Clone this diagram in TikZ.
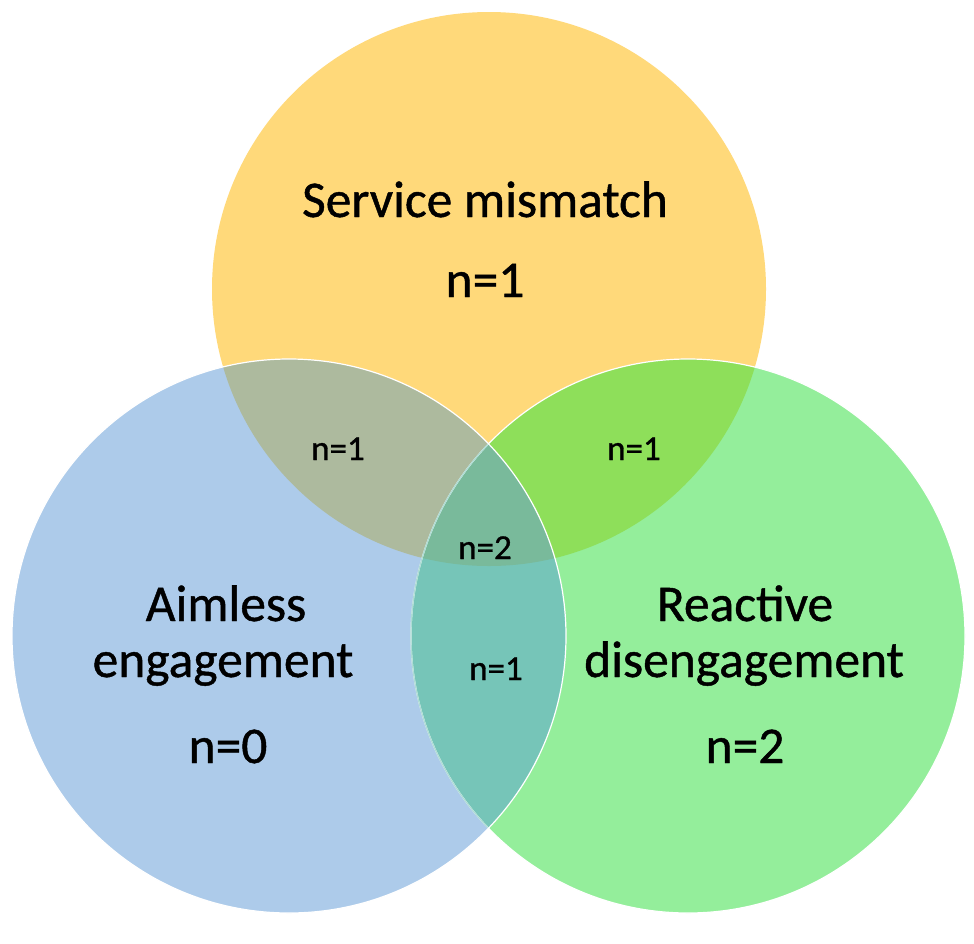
\documentclass[tikz,border=0pt]{standalone}
\usepackage{fontspec}
\setmainfont{Carlito}[BoldFont=Carlito, BoldFeatures={FakeBold=0.9}]
\definecolor{cyel}{HTML}{FFD97A}
\definecolor{cblu}{HTML}{ADCBEA}
\definecolor{cgrn}{HTML}{94EE9B}
\definecolor{cyb}{HTML}{ADBA9E}
\definecolor{cyg}{HTML}{8EDF5A}
\definecolor{cbg}{HTML}{76C5B8}
\definecolor{cybg}{HTML}{79BA9B}
\tikzset{
  bigtxt/.style={font=\fontsize{51.5}{56}\selectfont\bfseries, inner sep=0pt, anchor=base},
  smalltxt/.style={font=\fontsize{35}{40}\selectfont\bfseries, inner sep=0pt, anchor=base},
  rim/.style={white, line width=1.2pt}
}
\begin{document}
\begin{tikzpicture}[x=1pt,y=-1pt]
\useasboundingbox[fill=white] (0,0) rectangle (974,943);
\def\R{277}
\coordinate (Y) at (489,289);
\coordinate (B) at (289,636);
\coordinate (G) at (688,636);
% base circles
\fill[cyel] (Y) circle (\R);
\fill[cgrn] (G) circle (\R);
\fill[cblu] (B) circle (\R);
% pairwise overlaps
\begin{scope}
  \clip (Y) circle (\R);
  \fill[cyb] (B) circle (\R);
  \fill[cyg] (G) circle (\R);
\end{scope}
\begin{scope}
  \clip (B) circle (\R);
  \fill[cbg] (G) circle (\R);
  \clip (G) circle (\R);
  \fill[cybg] (Y) circle (\R);
\end{scope}
% white rims
\draw[rim] (G) circle (\R);
\begin{scope}
  \clip (B) circle (\R);
  \draw[cbg!60!white, line width=1.2pt] (G) circle (\R);
\end{scope}
\draw[rim] (B) circle (\R);
% labels
\node[bigtxt] (tY) at (485,217) {Service mismatch};
\node[bigtxt] (nY) at (485,297) {n=1};
\node[bigtxt] (tB1) at (226,621) {Aimless};
\node[bigtxt] (tB2) at (223,677) {engagement};
\node[bigtxt] (nB) at (228,763) {n=0};
\node[bigtxt] (tG1) at (745,621) {Reactive};
\node[bigtxt] (tG2) at (744,677) {disengagement};
\node[bigtxt] (nG) at (745,763) {n=2};
\node[smalltxt] (nYB) at (338,460) {n=1};
\node[smalltxt] (nYG) at (634,460) {n=1};
\node[smalltxt] (nYBG) at (485,559) {n=2};
\node[smalltxt] (nBG) at (496,680) {n=1};
\end{tikzpicture}
\end{document}
